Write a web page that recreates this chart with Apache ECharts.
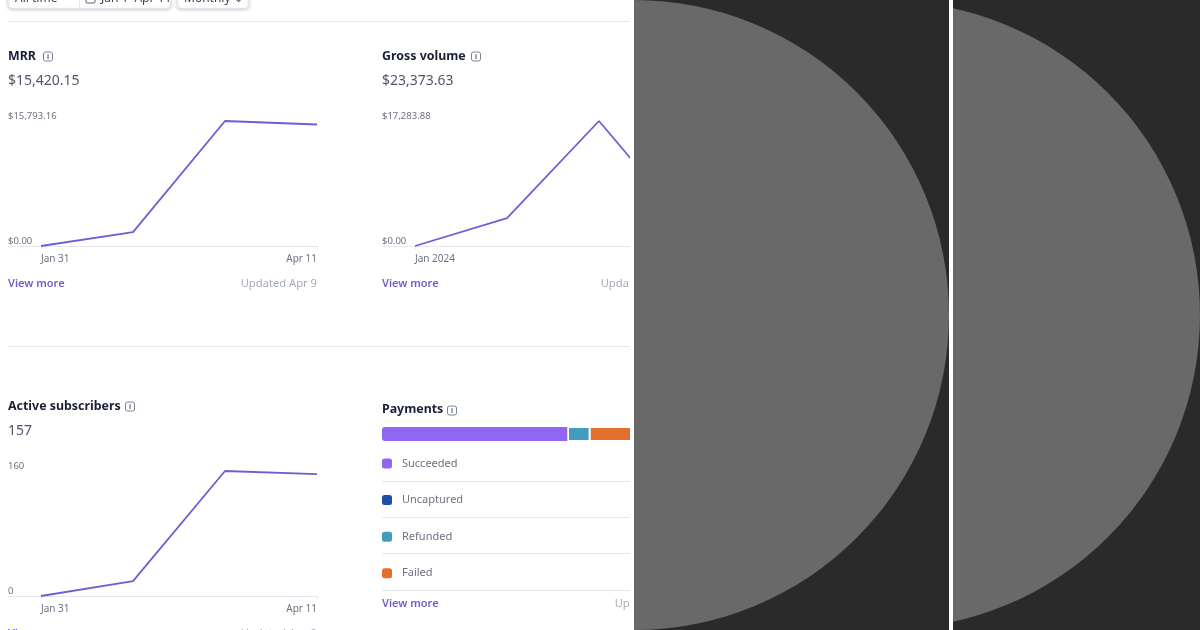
<!DOCTYPE html>
<html>
<head>
<meta charset="utf-8">
<script src="https://cdn.jsdelivr.net/npm/echarts@6/dist/echarts.min.js"></script>
<style>
html, body { margin: 0; padding: 0; background: #fff; width: 1200px; height: 630px; overflow: hidden; }
#chart { position: absolute; left: 0; top: 0; width: 720px; height: 630px; }
.strip { position: absolute; left: 630px; top: 0; width: 4px; height: 630px; background: #fff; }
.panel { position: absolute; top: 0; height: 630px; background: #2a2a2a; overflow: hidden; }
.disc { position: absolute; background: #696969; border-radius: 50%; }
</style>
</head>
<body>
<div id="chart"></div>
<div class="strip"></div>
<div class="panel" style="left:634px;width:315px"><div class="disc" style="left:-315px;top:0;width:630px;height:630px"></div></div>
<div class="panel" style="left:953px;width:247px"><div class="disc" style="left:-381px;top:1px;width:628px;height:628px"></div></div>
<script>
const monthEnds = ['Jan 31', 'Feb 29', 'Mar 31', 'Apr 11'];
const months = ['Jan 2024', 'Feb 2024', 'Mar 2024', 'Apr 2024'];
const mrrValues = [0, 1755, 15793.16, 15350];
const grossValues = [0, 3840, 17283.88, 2250];
const subscriberValues = [0, 19, 160, 156];
const paymentNames = ['Succeeded', 'Uncaptured', 'Refunded', 'Failed'];
const paymentShares = [60.2, 0, 7, 32.8];

const FONT = '"Noto Sans", sans-serif';
const LINE = '#6b5fd6';
const RULE = '#e3e8ee';
const GREY = '#6b7280';
const PAYMENT_COLORS = ['#9166f2', '#1f4ea8', '#419dbd', '#e0702c'];

function text(x, y, str, size, color, extra) {
    return {
        type: 'text', x: x, y: y,
        style: Object.assign({
            text: str, fontFamily: FONT, fontSize: size, fill: color,
            verticalAlign: 'middle', align: 'left'
        }, extra || {})
    };
}

function rule(x1, x2, y) {
    return {
        type: 'line',
        shape: { x1: x1, y1: y, x2: x2, y2: y },
        style: { stroke: RULE, lineWidth: 1 }
    };
}

function infoIcon(x, y) {
    return [
        {
            type: 'rect', shape: { x: x, y: y - 4, width: 9, height: 9, r: 2 },
            style: { fill: '#fff', stroke: '#7a8494', lineWidth: 1 }
        },
        text(x + 4.5, y + 0.5, 'i', 7, '#5a6472', { align: 'center', fontWeight: 'bold' })
    ];
}

function button(x, w) {
    return {
        type: 'rect', shape: { x: x, y: -12, width: w, height: 20.5, r: 4 },
        style: { fill: '#fff', stroke: '#e0e3e8', lineWidth: 1, shadowBlur: 3, shadowColor: 'rgba(60,66,87,0.22)', shadowOffsetY: 1 }
    };
}

function footer(left, right, y) {
    return [
        text(left, y, 'View more', 11, '#6c5fd3', { fontWeight: 600 }),
        text(right, y, 'Updated Apr 9', 11.2, '#a3acb9', { align: 'right' })
    ];
}

function title(x, y, str) {
    return text(x, y, str, 12.4, '#1a1f36', { fontWeight: 'bold' });
}

function gridAt(left, top) {
    return { left: left, top: top, width: 276, height: 125 };
}

function xAxisFor(idx, cats) {
    return {
        type: 'category', gridIndex: idx, data: cats, boundaryGap: false,
        axisLine: { show: true, lineStyle: { color: RULE, width: 1 } },
        axisTick: { show: true, length: 3, lineStyle: { color: RULE }, interval: i => i === 0 || i === 3 },
        axisLabel: {
            interval: i => i === 0 || i === 3, alignMinLabel: 'left', alignMaxLabel: 'right',
            color: GREY, fontFamily: FONT, fontSize: 10, margin: 8
        }
    };
}

function yAxisFor(idx, maxVal, fmt) {
    return {
        type: 'value', gridIndex: idx, min: 0, max: maxVal, interval: maxVal,
        splitLine: { show: false }, axisLine: { show: false }, axisTick: { show: false },
        axisLabel: {
            formatter: fmt, align: 'left', verticalAlign: 'bottom', margin: 33, lineHeight: 10,
            color: GREY, fontFamily: FONT, fontSize: 9.5
        }
    };
}

function lineSeries(idx, values) {
    return {
        type: 'line', xAxisIndex: idx, yAxisIndex: idx, data: values,
        showSymbol: false, silent: true, clip: false,
        lineStyle: { color: LINE, width: 1.8 }
    };
}

const money = v => '$' + v.toLocaleString('en-US', { minimumFractionDigits: 2, maximumFractionDigits: 2 });

const chart = echarts.init(document.getElementById('chart'), null, { renderer: 'canvas' });

const barSeries = paymentNames.map((name, i) => ({
    type: 'bar', name: name, stack: 'payments', xAxisIndex: 3, yAxisIndex: 3,
    data: [paymentShares[i]], barWidth: 14, silent: true,
    itemStyle: {
        color: PAYMENT_COLORS[i], borderColor: '#fff', borderWidth: i === 0 ? 0 : 1,
        borderRadius: i === 0 ? [3, 0, 0, 3] : 0
    }
}));

const graphics = [
    button(8, 163), button(177, 72),
    { type: 'line', shape: { x1: 79.5, y1: 0, x2: 79.5, y2: 8 }, style: { stroke: RULE, lineWidth: 1 } },
    { type: 'rect', shape: { x: 86, y: -5, width: 9, height: 8, r: 1 }, style: { fill: '#fff', stroke: '#5a6472', lineWidth: 1 } },
    text(15, -1, 'All time', 12, '#3c4257'),
    text(101, -1, 'Jan 1–Apr 11', 12, '#3c4257'),
    text(184, -1, 'Monthly', 12, '#3c4257'),
    text(234, -1, '⌄', 11, '#3c4257'),
    rule(8, 630, 21.5),
    rule(8, 630, 346.5),

    title(8, 56, 'MRR'),
    ...infoIcon(43.5, 56),
    text(8, 81, '$15,420.15', 14, '#4f566b'),
    rule(8, 41, 246.5),
    ...footer(8, 317, 283.5),

    title(382, 56, 'Gross volume'),
    ...infoIcon(471.5, 56),
    text(382, 81, '$23,373.63', 14, '#4f566b'),
    rule(382, 415, 246.5),
    ...footer(382, 677, 283.5),

    title(8, 406, 'Active subscribers'),
    ...infoIcon(125.5, 406),
    text(8, 431.5, '157', 14, '#4f566b'),
    rule(8, 41, 596.5),
    ...footer(8, 317, 634),

    title(382, 409.5, 'Payments'),
    ...infoIcon(447.5, 410),
    rule(382, 630, 481.5),
    rule(382, 630, 517.5),
    rule(382, 630, 553.5),
    rule(382, 630, 590.5),
    ...footer(382, 691, 604)
];

chart.setOption({
    animation: false,
    backgroundColor: '#fff',
    tooltip: { show: false },
    grid: [
        gridAt(41, 121),
        gridAt(415, 121),
        gridAt(41, 471),
        { left: 382, top: 427, width: 309, height: 14 }
    ],
    xAxis: [
        xAxisFor(0, monthEnds),
        xAxisFor(1, months),
        xAxisFor(2, monthEnds),
        { type: 'value', gridIndex: 3, min: 0, max: 100, show: false }
    ],
    yAxis: [
        yAxisFor(0, 15793.16, money),
        yAxisFor(1, 17283.88, money),
        yAxisFor(2, 160, v => String(v)),
        { type: 'category', gridIndex: 3, data: ['Payments'], show: false }
    ],
    legend: {
        orient: 'vertical', left: 382, top: 458, itemWidth: 10, itemHeight: 10,
        itemGap: 25.6, icon: 'roundRect', selectedMode: false, padding: 0,
        data: paymentNames.map(name => ({ name: name, itemStyle: { borderWidth: 0 } })),
        textStyle: { color: GREY, fontFamily: FONT, fontSize: 11, padding: [0, 0, 0, 5] }
    },
    series: [
        lineSeries(0, mrrValues),
        lineSeries(1, grossValues),
        lineSeries(2, subscriberValues),
        ...barSeries
    ],
    graphic: graphics
});
</script>
</body>
</html>
